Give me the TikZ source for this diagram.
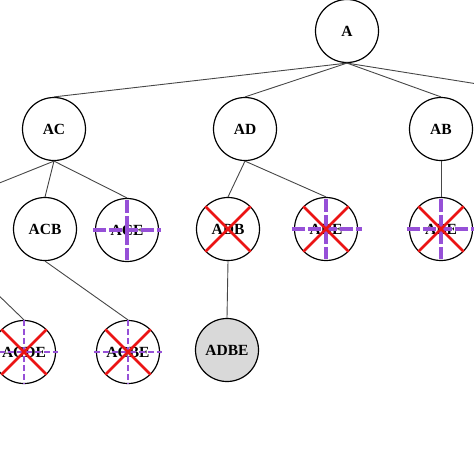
\documentclass[tikz,border=0pt]{standalone}
\usepackage{fontspec}
\setmainfont{Liberation Serif}
\definecolor{prunepurple}{RGB}{150,80,215}
\definecolor{crossred}{RGB}{235,20,20}
\tikzset{
	itemset/.style={draw=black,circle,line width=1.2pt,minimum size=63pt,inner sep=0pt,
		font=\bfseries\fontsize{15.5}{17}\selectfont},
	frequent/.style={itemset,fill=black!15},
	branch/.style={draw=black!72,line width=0.9pt},
	pruneline/.style={prunepurple,line width=3.4pt,dash pattern=on 13pt off 3pt},
	prunethin/.style={prunepurple,line width=1.9pt,dash pattern=on 6pt off 3pt},
	redx/.style={crossred,line width=2.5pt}
}
\begin{document}
\begin{tikzpicture}[x=1pt,y=-1pt]
		\useasboundingbox (0,0) rectangle (474,474);
		\clip (0,0) rectangle (474,474);
		% tree of itemsets
		\node[itemset] (A) at (347,31) {A};
		\node[itemset] (AC) at (54,129) {AC};
		\node[itemset] (AD) at (245,129) {AD};
		\node[itemset] (AB) at (441,129) {AB};
		\node[itemset] (ACB) at (45,229) {ACB};
		\node[itemset] (ACE) at (127,230) {ACE};
		\node[itemset] (ADB) at (228,229) {ADB};
		\node[itemset] (ADE) at (326,229) {ADE};
		\node[itemset] (ABE) at (441,229) {ABE};
		\node[itemset] (ACDE) at (24,352) {ACDE};
		\node[itemset] (ACBE) at (128,352) {ACBE};
		\node[frequent] (ADBE) at (227,350) {ADBE};
		% branches leaving the picture
		\coordinate (ACDtop) at (-38,198);
		\coordinate (ACDbot) at (-38,260);
		\coordinate (AEtop) at (565,98);
		\draw[branch] (A.south) -- (AC.north);
		\draw[branch] (A.south) -- (AD.north);
		\draw[branch] (A.south) -- (AB.north);
		\draw[branch] (A.south) -- (AEtop);
		\draw[branch] (AC.south) -- (ACDtop);
		\draw[branch] (AC.south) -- (ACB.north);
		\draw[branch] (AC.south) -- (ACE.north);
		\draw[branch] (AD.south) -- (ADB.north);
		\draw[branch] (AD.south) -- (ADE.north);
		\draw[branch] (AB.south) -- (ABE.north);
		\draw[branch] (ACDbot) -- (ACDE.north);
		\draw[branch] (ACB.south) -- (ACBE.north);
		\draw[branch] (ADB.south) -- (ADBE.north);
		% pruned by subset check
		\draw[pruneline] ([yshift=-2pt]ACE.north) -- ([yshift=2pt]ACE.south);
		\draw[pruneline] ([xshift=-2pt]ACE.west) -- ([xshift=2pt]ACE.east);
		\draw[pruneline] ([yshift=-2pt]ADE.north) -- ([yshift=2pt]ADE.south);
		\draw[pruneline] ([xshift=-2pt]ADE.west) -- ([xshift=4pt]ADE.east);
		\draw[pruneline] ([yshift=-2pt]ABE.north) -- ([yshift=2pt]ABE.south);
		\draw[pruneline] ([xshift=-2pt]ABE.west) -- ([xshift=2pt]ABE.east);
		\draw[prunethin] (ACDE.north) -- (ACDE.south);
		\draw[prunethin] ([xshift=-2pt]ACDE.west) -- ([xshift=2pt]ACDE.east);
		\draw[prunethin] (ACBE.north) -- (ACBE.south);
		\draw[prunethin] ([xshift=-2pt]ACBE.west) -- ([xshift=2pt]ACBE.east);
		% pruned by support
		\draw[redx] (ADB.north west) -- (ADB.south east);
		\draw[redx] (ADB.north east) -- (ADB.south west);
		\draw[redx] (ADE.north west) -- (ADE.south east);
		\draw[redx] (ADE.north east) -- (ADE.south west);
		\draw[redx] (ABE.north west) -- (ABE.south east);
		\draw[redx] (ABE.north east) -- (ABE.south west);
		\draw[redx] (ACDE.north west) -- (ACDE.south east);
		\draw[redx] (ACDE.north east) -- (ACDE.south west);
		\draw[redx] (ACBE.north west) -- (ACBE.south east);
		\draw[redx] (ACBE.north east) -- (ACBE.south west);
	\end{tikzpicture}
\end{document}
